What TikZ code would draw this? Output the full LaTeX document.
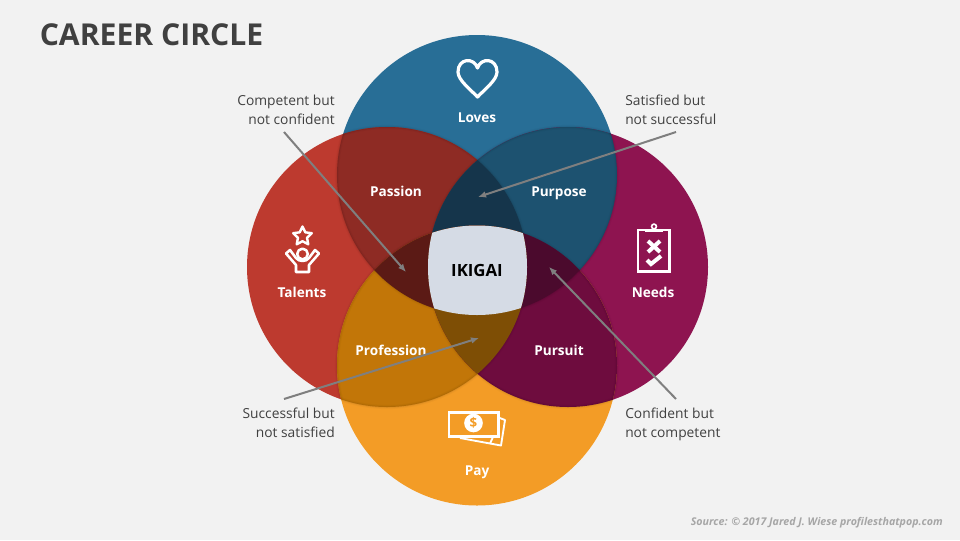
\documentclass[tikz,border=0pt]{standalone}
\usepackage{fontspec}
\setmainfont{Open Sans}
\usetikzlibrary{arrows.meta}
\definecolor{bgc}{HTML}{F2F2F2}
\definecolor{cT}{HTML}{286E96}
\definecolor{cL}{HTML}{BD3A2F}
\definecolor{cR}{HTML}{8E1450}
\definecolor{cB}{HTML}{F39C26}
\definecolor{cLT}{HTML}{8E2B24}
\definecolor{cTR}{HTML}{1D5270}
\definecolor{cLB}{HTML}{C27608}
\definecolor{cRB}{HTML}{6E0C3E}
\definecolor{cLTR}{HTML}{15354B}
\definecolor{cLTB}{HTML}{5B1A15}
\definecolor{cTRB}{HTML}{4B0A2D}
\definecolor{cLRB}{HTML}{7E4E05}
\definecolor{cC}{HTML}{D5DBE5}
\definecolor{txt}{HTML}{404040}
\definecolor{arr}{HTML}{7F7F7F}
\def\cirT{(477,175) circle[radius=105pt]}
\def\cirL{(387,267) circle[radius=105pt]}
\def\cirR{(568,267) circle[radius=105pt]}
\def\cirB{(477,365.5) circle[radius=105pt]}
\newcommand{\regionfill}[2]{\begin{scope}#1\fill[#2] (0,0) rectangle (960,540);\end{scope}}
\newcommand{\edgeshade}[2]{\begin{scope}\clip #1;
  \draw[black,opacity=.025,line width=3.2pt] #2;
  \draw[black,opacity=.03,line width=1.8pt] #2;
  \draw[black,opacity=.04,line width=.8pt] #2;\end{scope}}
\tikzset{
  x=.75pt,y=-.75pt,
  lab/.style={font=\fontsize{10.2pt}{12pt}\selectfont\bfseries,text=white,inner sep=0pt,anchor=base},
  note/.style={font=\fontsize{10.35pt}{14.2pt}\selectfont,text=txt,inner sep=0pt},
  pointer/.style={arr,line width=1.5pt,-{Latex[length=6pt,width=5pt]}},
  icon/.style={white,line width=2pt,line join=round,line cap=round},
}
\begin{document}
\begin{tikzpicture}
\useasboundingbox (0,0) rectangle (960,540);
\fill[bgc] (0,0) rectangle (960,540);
\fill[cT] \cirT; \fill[cR] \cirR; \fill[cL] \cirL; \fill[cB] \cirB;
% pairs
\regionfill{\clip \cirL;\clip \cirT;}{cLT}
\regionfill{\clip \cirT;\clip \cirR;}{cTR}
\regionfill{\clip \cirL;\clip \cirB;}{cLB}
\regionfill{\clip \cirR;\clip \cirB;}{cRB}
% soft edges
\edgeshade{\cirL}{\cirT}\edgeshade{\cirT}{\cirL}
\edgeshade{\cirT}{\cirR}\edgeshade{\cirR}{\cirT}
\edgeshade{\cirL}{\cirB}\edgeshade{\cirB}{\cirL}
\edgeshade{\cirR}{\cirB}\edgeshade{\cirB}{\cirR}
% triples
\regionfill{\clip \cirL;\clip \cirT;\clip \cirR;}{cLTR}
\regionfill{\clip \cirL;\clip \cirT;\clip \cirB;}{cLTB}
\regionfill{\clip \cirT;\clip \cirR;\clip \cirB;}{cTRB}
\regionfill{\clip \cirL;\clip \cirR;\clip \cirB;}{cLRB}
\regionfill{\clip \cirL;\clip \cirR;\clip \cirT;\clip \cirB;}{cC}
% heart
\draw[icon,line width=2.4pt] (477.5,97)
  .. controls (470,89) and (458,80) .. (458,72)
  .. controls (458,58) and (474,57) .. (477.5,68)
  .. controls (481,57) and (497,58) .. (497,72)
  .. controls (497,80) and (485,89) .. (477.5,97) -- cycle;
% talents icon
\draw[icon,line width=1.8pt] (302.5,226.5) -- (305.3,232.3) -- (311.8,233.2) -- (307,237.8) -- (308.3,244.3) -- (302.5,241.2) -- (296.7,244.3) -- (298,237.8) -- (293.2,233.2) -- (299.7,232.3) -- cycle;
\draw[icon,line width=1.9pt] (302.5,254) circle[radius=4pt];
\draw[icon,line width=1.9pt] (286,253.5) -- (290,250) -- (296,258) .. controls (299,262) and (306,262) .. (309,258) -- (315,250) -- (319,253.5) -- (309,265) -- (309,272) -- (296,272) -- (296,265) -- cycle;
% clipboard icon
\draw[white,line width=2pt,miter limit=4] (638,230) rectangle (669.5,271.5);
\fill[white] (645,228.5) rectangle (662.5,232);
\draw[white,line width=1.2pt] (654,226.5) circle[radius=1.8pt];
\draw[white,line width=3pt] (648,241) -- (660,252) (660,241) -- (648,252);
\draw[white,line width=3pt] (647,260) -- (651,264) -- (661,256);
% money icon
\draw[white,line width=2pt,line join=miter] (449,412.5) rectangle (498.5,436.5);
\fill[white] (473.5,423) circle[radius=7pt];
\node[font=\fontsize{10pt}{12pt}\selectfont\bfseries,text=cB,inner sep=0pt] (dollar) at (473.5,423) {\$};
\draw[white,line width=1.4pt,line join=round] (460,438) -- (490,443.5) -- (493,437) (498.5,417.5) -- (505,420) -- (501,445.5) -- (490,443.5);
% labels
\node[lab] (loves) at (477,122) {Loves};
\node[lab] (passion) at (396,196) {Passion};
\node[lab] (purpose) at (559,196) {Purpose};
\node[lab] (talents) at (302,297) {Talents};
\node[lab] (needs) at (653,297) {Needs};
\node[lab,text=black,font=\fontsize{12.6pt}{14pt}\selectfont\bfseries] (ikigai) at (477,276) {IKIGAI};
\node[lab] (profession) at (391,355) {Profession};
\node[lab] (pursuit) at (559,355) {Pursuit};
\node[lab] (pay) at (477,475) {Pay};
% title and source
\node[anchor=west,inner sep=0pt,text=txt,font=\fontsize{22.6pt}{26pt}\selectfont\bfseries] (title) at (39.5,35) {CAREER CIRCLE};
\node[anchor=east,inner sep=0pt,text=black!35,font=\fontsize{8pt}{9pt}\selectfont\bfseries\itshape] (source) at (943,523) {Source: © 2017 Jared J. Wiese profilesthatpop.com};
% annotations
\node[note,anchor=east,align=right] (n1) at (335,109.5) {Competent but\\not confident};
\node[note,anchor=west,align=left] (n2) at (625,109.5) {Satisfied but\\not successful};
\node[note,anchor=east,align=right] (n3) at (335,422.5) {Successful but\\not satisfied};
\node[note,anchor=west,align=left] (n4) at (625,424) {Confident but\\not competent};
\coordinate (s1) at (284,132); \coordinate (e1) at (406,272);
\coordinate (s2) at (676,132); \coordinate (e2) at (478,197);
\coordinate (s3) at (284,399); \coordinate (e3) at (479,338);
\coordinate (s4) at (676,399); \coordinate (e4) at (549,267);
\draw[pointer] (s1) -- (e1);
\draw[pointer] (s2) -- (e2);
\draw[pointer] (s3) -- (e3);
\draw[pointer] (s4) -- (e4);
\end{tikzpicture}
\end{document}
